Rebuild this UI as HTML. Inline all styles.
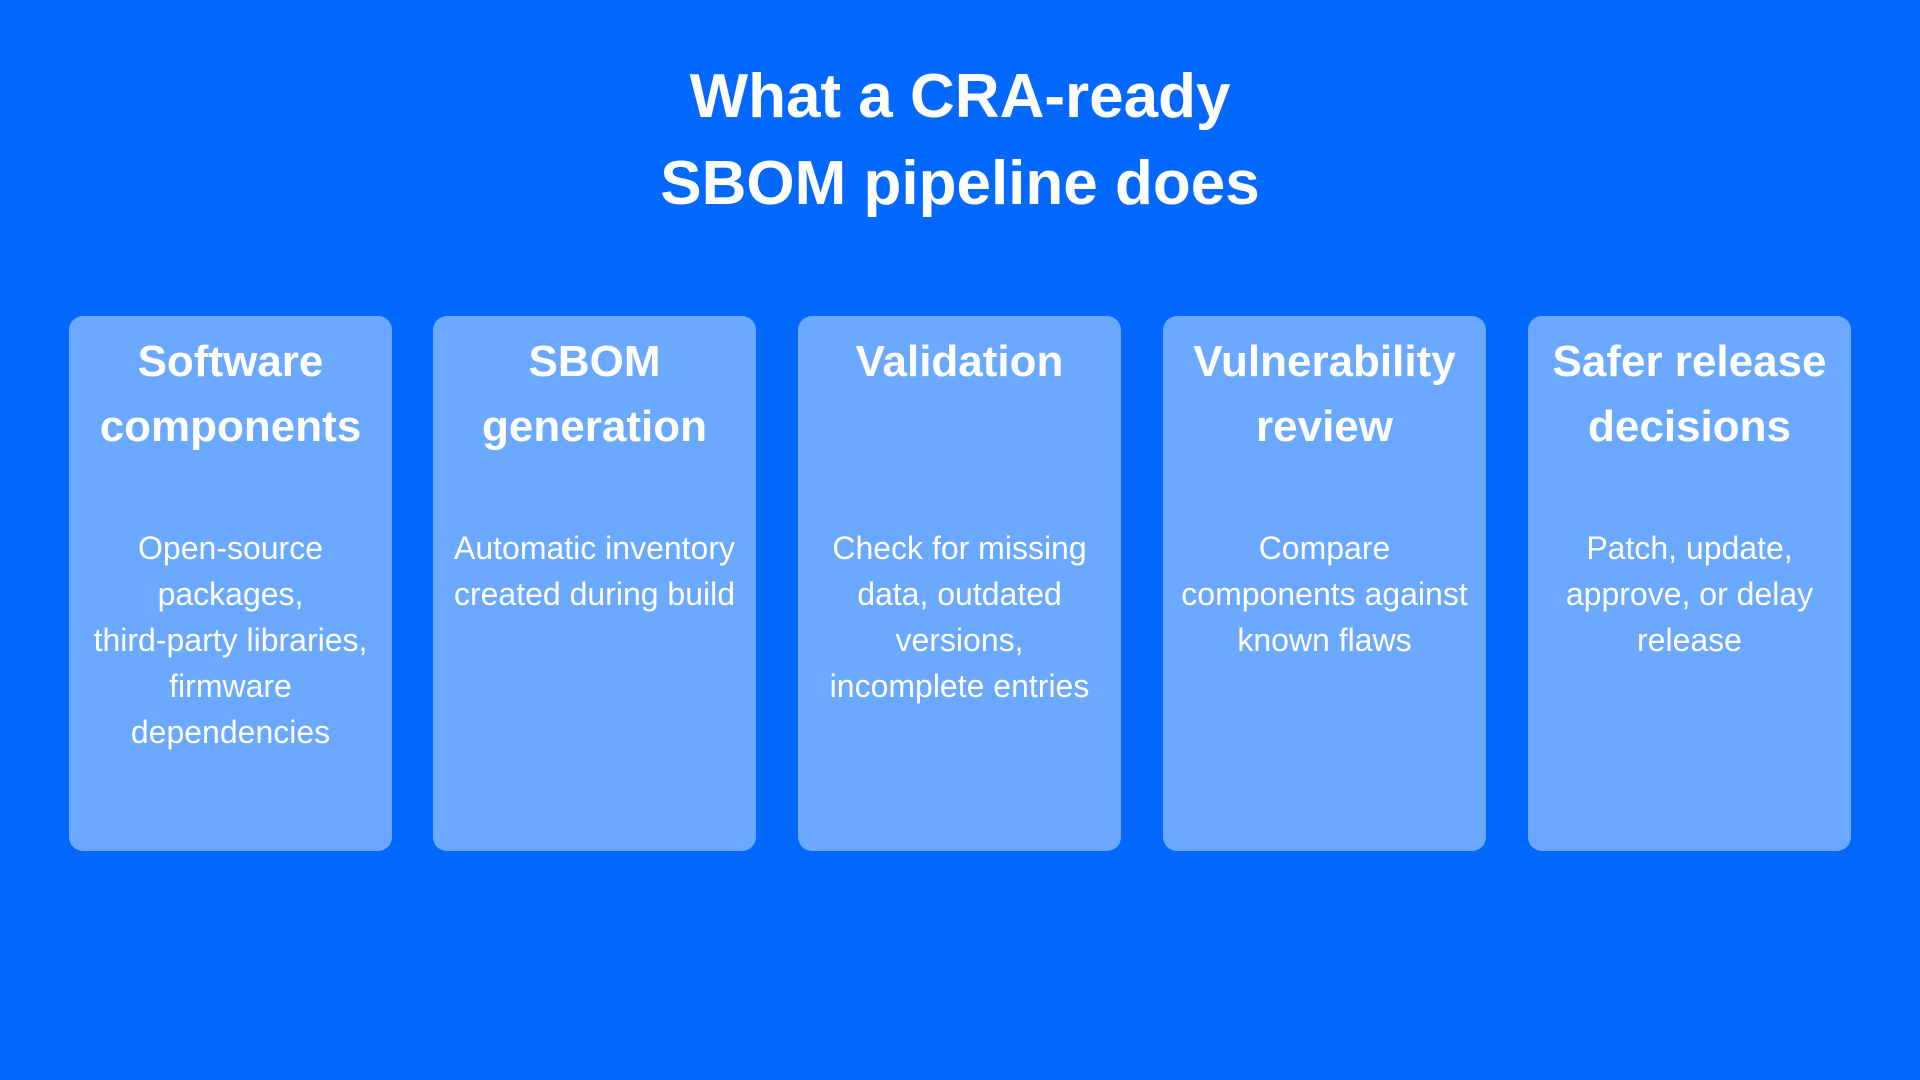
<!DOCTYPE html>
<html><head><meta charset="utf-8"><style>
html,body{margin:0;padding:0}
body{width:1920px;height:1080px;background:#0368FE;position:relative;overflow:hidden;font-family:"Liberation Sans",sans-serif;color:#fff}
.t{position:absolute;left:0;width:1920px;text-align:center;font-weight:bold;font-size:62px}
.card{position:absolute;top:316px;width:323px;height:535px;background:#6AA9FF;border-radius:14px}
.h{position:absolute;left:0;width:100%;text-align:center;font-weight:bold;font-size:44px;line-height:65px;top:13px}
.b{position:absolute;left:0;width:100%;text-align:center;font-size:32px;line-height:46px;top:209px}
</style></head><body>
<div class="t" style="top:61px">What a CRA-ready</div>
<div class="t" style="top:148px">SBOM pipeline does</div>
<div class="card" style="left:69px"><div class="h">Software<br>components</div><div class="b">Open-source<br>packages,<br>third-party libraries,<br>firmware<br>dependencies</div></div>
<div class="card" style="left:433px"><div class="h">SBOM<br>generation</div><div class="b">Automatic inventory<br>created during build</div></div>
<div class="card" style="left:798px"><div class="h">Validation</div><div class="b">Check for missing<br>data, outdated<br>versions,<br>incomplete entries</div></div>
<div class="card" style="left:1163px"><div class="h">Vulnerability<br>review</div><div class="b">Compare<br>components against<br>known flaws</div></div>
<div class="card" style="left:1528px"><div class="h">Safer release<br>decisions</div><div class="b">Patch, update,<br>approve, or delay<br>release</div></div>
</body></html>
